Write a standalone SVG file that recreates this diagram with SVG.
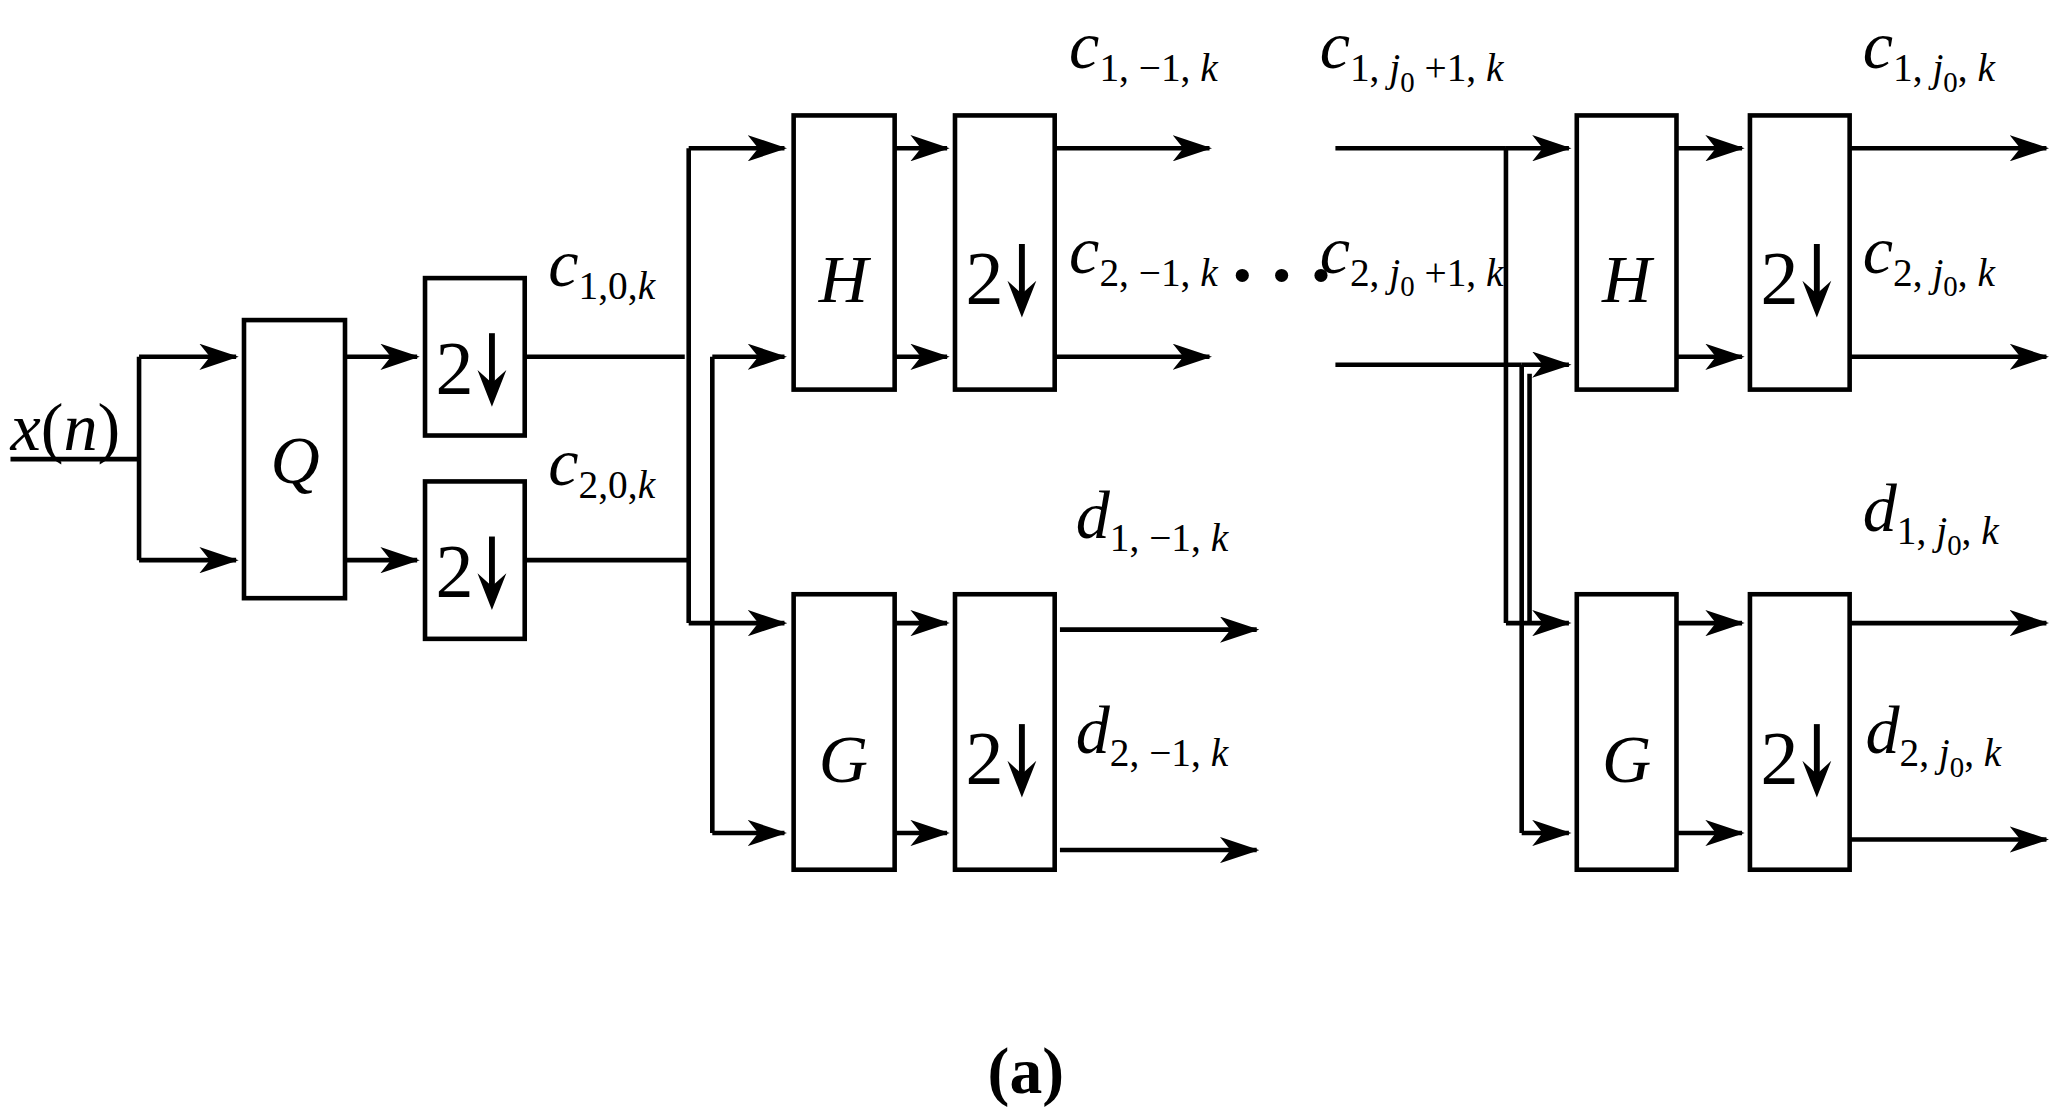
<svg xmlns="http://www.w3.org/2000/svg" width="2057" height="1120" viewBox="0 0 2057 1120">
<style>
.b{fill:none;stroke:#000;stroke-width:3.5}
.l{fill:none;stroke:#000;stroke-width:3.5}
.a{fill:none;stroke:#000;stroke-width:3.5;marker-end:url(#ar)}
.t{font-family:"Liberation Serif",serif;font-style:italic;font-size:52px}
.s{font-size:30px}
.ss{font-size:22px}
.n{font-style:normal}
.two{font-family:"Liberation Serif",serif;font-size:58px}
</style>
<defs>
<marker id="ar" viewBox="0 0 30 20" refX="28" refY="10" markerWidth="30" markerHeight="20" markerUnits="userSpaceOnUse" orient="auto">
<path d="M0,0 L30,10 L0,20 L8,10 Z" fill="#000"/>
</marker>
<g id="dn"><text class="two" x="-30" y="20">2</text><path d="M13,-26 V20" fill="none" stroke="#000" stroke-width="4.5"/><path d="M2,2 L13,30 L24,2 L13,12Z" fill="#000"/></g>
</defs>
<rect width="2057" height="1120" fill="#fff"/>
<g transform="scale(1.3118)">
<g id="connectors">
<path class="l" d="M8,350 H106 M106,272 V427"/>
<path class="a" d="M106,272 H180"/><path class="a" d="M106,427 H180"/>
<path class="a" d="M263,272 H318"/><path class="a" d="M263,427 H318"/>
<path class="l" d="M400,272 H522 M400,427 H525 M525,113 V475 M543,272 V635"/>
<path class="a" d="M525,113 H598"/><path class="a" d="M543,272 H598"/>
<path class="a" d="M525,475 H598"/><path class="a" d="M543,635 H598"/>
<path class="a" d="M682,113 H722"/><path class="a" d="M682,272 H722"/>
<path class="a" d="M682,475 H722"/><path class="a" d="M682,635 H722"/>
<path class="a" d="M804,113 H922"/><path class="a" d="M804,272 H922"/>
<path class="a" d="M808,480 H958"/><path class="a" d="M808,648 H958"/>
<path class="l" d="M1018,113 H1148 M1018,278 H1160 M1148,113 V475 M1160,278 V635 M1166,285 V475"/>
<path class="a" d="M1148,113 H1196"/><path class="a" d="M1160,278 H1196"/>
<path class="a" d="M1148,475 H1196"/><path class="a" d="M1160,635 H1196"/>
<path class="a" d="M1278,113 H1328"/><path class="a" d="M1278,272 H1328"/>
<path class="a" d="M1278,475 H1328"/><path class="a" d="M1278,635 H1328"/>
<path class="a" d="M1410,113 H1560"/><path class="a" d="M1410,272 H1560"/>
<path class="a" d="M1410,475 H1560"/><path class="a" d="M1410,640 H1560"/>
</g>
<g id="Q"><rect class="b" x="186" y="244" width="77" height="212"/><text class="t" x="225" y="368" text-anchor="middle">Q</text></g>
<g id="D1"><rect class="b" x="324" y="212" width="76" height="120"/><use href="#dn" x="362" y="280"/></g>
<g id="D2"><rect class="b" x="324" y="367" width="76" height="120"/><use href="#dn" x="362" y="435"/></g>
<g id="H1"><rect class="b" x="605" y="88" width="77" height="209"/><text class="t" x="643" y="230" text-anchor="middle">H</text></g>
<g id="G1"><rect class="b" x="605" y="453" width="77" height="210"/><text class="t" x="643" y="596" text-anchor="middle">G</text></g>
<g id="D3"><rect class="b" x="728" y="88" width="76" height="209"/><use href="#dn" x="766" y="212"/></g>
<g id="D4"><rect class="b" x="728" y="453" width="76" height="210"/><use href="#dn" x="766" y="578"/></g>
<g id="H2"><rect class="b" x="1202" y="88" width="76" height="209"/><text class="t" x="1240" y="230" text-anchor="middle">H</text></g>
<g id="G2"><rect class="b" x="1202" y="453" width="76" height="210"/><text class="t" x="1240" y="596" text-anchor="middle">G</text></g>
<g id="D5"><rect class="b" x="1334" y="88" width="76" height="209"/><use href="#dn" x="1372" y="212"/></g>
<g id="D6"><rect class="b" x="1334" y="453" width="76" height="210"/><use href="#dn" x="1372" y="578"/></g>
<g id="labels">
<text class="t" x="8" y="343">x<tspan class="n">(</tspan>n<tspan class="n">)</tspan></text>
<text class="t" x="418" y="218">c<tspan class="s" dy="10"><tspan class="n">1,0,</tspan>k</tspan></text>
<text class="t" x="418" y="370">c<tspan class="s" dy="10"><tspan class="n">2,0,</tspan>k</tspan></text>
<text class="t" x="815" y="52">c<tspan class="s" dy="10"><tspan class="n">1, −1, </tspan>k</tspan></text>
<text class="t" x="815" y="208">c<tspan class="s" dy="10"><tspan class="n">2, −1, </tspan>k</tspan></text>
<text class="t" x="820" y="410">d<tspan class="s" dy="10"><tspan class="n">1, −1, </tspan>k</tspan></text>
<text class="t" x="820" y="574">d<tspan class="s" dy="10"><tspan class="n">2, −1, </tspan>k</tspan></text>
<text class="t" x="1006" y="52">c<tspan class="s" dy="10"><tspan class="n">1, </tspan>j</tspan><tspan class="ss n" dy="8">0</tspan><tspan class="s" dy="-8"><tspan class="n"> +1, </tspan>k</tspan></text>
<text class="t" x="1006" y="208">c<tspan class="s" dy="10"><tspan class="n">2, </tspan>j</tspan><tspan class="ss n" dy="8">0</tspan><tspan class="s" dy="-8"><tspan class="n"> +1, </tspan>k</tspan></text>
<text class="t" x="1420" y="52">c<tspan class="s" dy="10"><tspan class="n">1, </tspan>j</tspan><tspan class="ss n" dy="8">0</tspan><tspan class="s" dy="-8"><tspan class="n">, </tspan>k</tspan></text>
<text class="t" x="1420" y="208">c<tspan class="s" dy="10"><tspan class="n">2, </tspan>j</tspan><tspan class="ss n" dy="8">0</tspan><tspan class="s" dy="-8"><tspan class="n">, </tspan>k</tspan></text>
<text class="t" x="1420" y="405">d<tspan class="s" dy="10"><tspan class="n">1, </tspan>j</tspan><tspan class="ss n" dy="8">0</tspan><tspan class="s" dy="-8"><tspan class="n">, </tspan>k</tspan></text>
<text class="t" x="1422" y="574">d<tspan class="s" dy="10"><tspan class="n">2, </tspan>j</tspan><tspan class="ss n" dy="8">0</tspan><tspan class="s" dy="-8"><tspan class="n">, </tspan>k</tspan></text>
<circle cx="947" cy="210" r="5"/><circle cx="977" cy="210" r="5"/><circle cx="1007" cy="210" r="5"/>
<text x="782" y="833" text-anchor="middle" font-family="Liberation Serif,serif" font-weight="bold" font-size="50">(a)</text>
</g>
</g>
</svg>
